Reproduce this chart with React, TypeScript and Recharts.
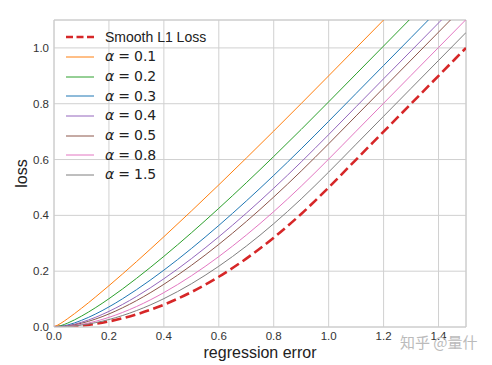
import React from 'react';
import { LineChart, Line, XAxis, YAxis, CartesianGrid, ReferenceLine } from 'recharts';

const xValues = [0, 0.025, 0.05, 0.1, 0.15, 0.2, 0.25, 0.3, 0.4, 0.5, 0.6, 0.7, 0.8, 0.9, 1.0, 1.1, 1.2, 1.3, 1.4, 1.5];

const smoothL1 = [0, 0.0003, 0.0013, 0.005, 0.0113, 0.02, 0.0313, 0.045, 0.08, 0.125, 0.18, 0.245, 0.32, 0.405, 0.5, 0.6, 0.7, 0.8, 0.9, 1.0];
const alpha01 = [0, 0.0133, 0.0301, 0.067, 0.1066, 0.1479, 0.1904, 0.2339, 0.3234, 0.4154, 0.5094, 0.6051, 0.7022, 0.8006, 0.9, 1.0, 1.1, 1.2, 1.3, 1.4];
const alpha02 = [0, 0.0048, 0.0141, 0.0389, 0.0685, 0.1013, 0.1366, 0.1739, 0.2531, 0.3372, 0.4253, 0.5168, 0.611, 0.7078, 0.8068, 0.9068, 1.0068, 1.1068, 1.2068, 1.3068];
const alpha03 = [0, 0.0021, 0.0073, 0.0238, 0.0459, 0.072, 0.1014, 0.1334, 0.2037, 0.281, 0.3639, 0.4515, 0.5432, 0.6385, 0.737, 0.837, 0.937, 1.037, 1.137, 1.237];
const alpha04 = [0, 0.0013, 0.0048, 0.0169, 0.0343, 0.056, 0.0811, 0.1092, 0.1728, 0.2446, 0.3233, 0.4077, 0.4973, 0.5913, 0.6894, 0.7894, 0.8894, 0.9894, 1.0894, 1.1894];
const alpha05 = [0, 0.0009, 0.0036, 0.0134, 0.028, 0.0467, 0.069, 0.0943, 0.153, 0.2207, 0.296, 0.3779, 0.4657, 0.5588, 0.6565, 0.7565, 0.8565, 0.9565, 1.0565, 1.1565];
const alpha08 = [0, 0.0006, 0.0024, 0.0092, 0.0201, 0.0345, 0.0523, 0.0731, 0.1232, 0.1833, 0.2523, 0.3293, 0.4135, 0.5045, 0.6016, 0.7016, 0.8016, 0.9016, 1.0016, 1.1016];
const alpha15 = [0, 0.0004, 0.0017, 0.0069, 0.0153, 0.0268, 0.0413, 0.0586, 0.1016, 0.1548, 0.2177, 0.2897, 0.3702, 0.4589, 0.5551, 0.6551, 0.7551, 0.8551, 0.9551, 1.0551];

const xTicks = [0, 0.2, 0.4, 0.6, 0.8, 1.0, 1.2, 1.4];
const yTicks = [0, 0.2, 0.4, 0.6, 0.8, 1.0];

const seriesDefs = [
  { key: 'smooth', label: 'Smooth L1 Loss', values: smoothL1, color: '#d62728', dashed: true, alpha: '' },
  { key: 'a01', label: '', alpha: '0.1', values: alpha01, color: '#ff7f0e', dashed: false },
  { key: 'a02', label: '', alpha: '0.2', values: alpha02, color: '#2ca02c', dashed: false },
  { key: 'a03', label: '', alpha: '0.3', values: alpha03, color: '#1f77b4', dashed: false },
  { key: 'a04', label: '', alpha: '0.4', values: alpha04, color: '#9467bd', dashed: false },
  { key: 'a05', label: '', alpha: '0.5', values: alpha05, color: '#8c564b', dashed: false },
  { key: 'a08', label: '', alpha: '0.8', values: alpha08, color: '#e377c2', dashed: false },
  { key: 'a15', label: '', alpha: '1.5', values: alpha15, color: '#7f7f7f', dashed: false },
];

const data = xValues.map((x, i) => {
  const row: Record<string, number> = { x };
  seriesDefs.forEach((s) => {
    row[s.key] = s.values[i];
  });
  return row;
});

const tickFont = { fontFamily: '"Liberation Sans", Arial, sans-serif', fontSize: 11.5, fill: '#333' };

export default function App() {
  return (
    <div style={{ position: 'absolute', left: 0, top: 0, width: 492, height: 365, background: '#fff' }}>
      <LineChart width={492} height={365} data={data} margin={{ top: 20, right: 26, left: 0, bottom: 0 }}>
        <CartesianGrid stroke="#d0d0d0" strokeWidth={1} />
        <XAxis
          dataKey="x"
          type="number"
          domain={[0, 1.5]}
          ticks={xTicks}
          tickFormatter={(v: number) => v.toFixed(1)}
          height={38}
          axisLine={{ stroke: '#cccccc' }}
          tickLine={false}
          tickSize={0}
          tickMargin={5}
          tick={tickFont}
          allowDataOverflow
          label={{
            value: 'regression error',
            position: 'insideBottom',
            offset: 7,
            style: { fontFamily: '"Liberation Sans", Arial, sans-serif', fontSize: 16, fill: '#222' },
          }}
        />
        <YAxis
          type="number"
          domain={[0, 1.1]}
          ticks={yTicks}
          tickFormatter={(v: number) => v.toFixed(1)}
          width={54}
          axisLine={{ stroke: '#cccccc' }}
          tickLine={false}
          tickSize={0}
          tickMargin={5}
          tick={tickFont}
          allowDataOverflow
          label={{
            value: 'loss',
            angle: -90,
            position: 'insideLeft',
            offset: 21,
            style: { textAnchor: 'middle', fontFamily: '"Liberation Sans", Arial, sans-serif', fontSize: 16, fill: '#222' },
          }}
        />
        <ReferenceLine y={1.1} stroke="#cccccc" />
        <ReferenceLine x={1.5} stroke="#cccccc" />
        {seriesDefs.map((s) => (
          <Line
            key={s.key}
            dataKey={s.key}
            type="monotone"
            stroke={s.color}
            strokeWidth={s.dashed ? 2.6 : 1}
            strokeDasharray={s.dashed ? '10 4.5' : undefined}
            dot={false}
            activeDot={false}
            isAnimationActive={false}
          />
        ))}
      </LineChart>
      <div style={{ position: 'absolute', left: 66, top: 27.5 }}>
        {seriesDefs.map((s) => (
          <div key={s.key} style={{ display: 'flex', alignItems: 'center', height: 19.65 }}>
            <svg width={28} height={6} style={{ display: 'block' }}>
              <line
                x1={0}
                y1={3}
                x2={28}
                y2={3}
                stroke={s.color}
                strokeWidth={s.dashed ? 2.6 : 1}
                strokeDasharray={s.dashed ? '7 3.5' : undefined}
              />
            </svg>
            <div
              style={{
                marginLeft: 11,
                fontSize: 14,
                color: '#222',
                whiteSpace: 'nowrap',
                lineHeight: '19px',
                fontFamily: s.dashed ? '"Liberation Sans", Arial, sans-serif' : '"DejaVu Sans", sans-serif',
              }}
            >
              {s.dashed ? (
                s.label
              ) : (
                <span>
                  <span style={{ fontStyle: 'italic' }}>α</span>
                  <span style={{ margin: '0 4px' }}>=</span>
                  {s.alpha}
                </span>
              )}
            </div>
          </div>
        ))}
      </div>
      <div
        style={{
          position: 'absolute',
          left: 400,
          top: 333,
          fontSize: 15,
          color: '#bbbbbb',
          fontFamily: '"Noto Sans CJK SC", sans-serif',
          whiteSpace: 'nowrap',
          lineHeight: '18px',
        }}
      >
        知乎 @量什
      </div>
    </div>
  );
}
